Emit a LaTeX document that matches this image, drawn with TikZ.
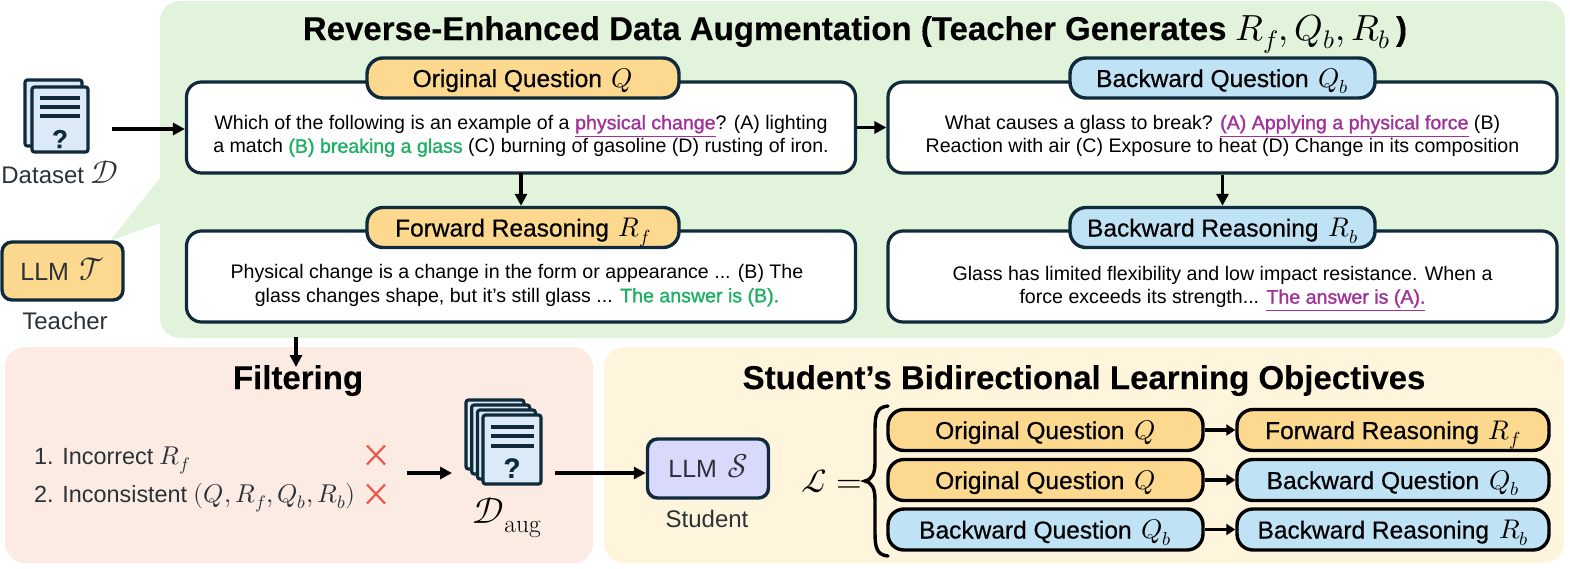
\documentclass[tikz,border=0pt]{standalone}
\usepackage{fontspec}
\usepackage{unicode-math}
\setmainfont{Liberation Sans}
\setmathfont{Latin Modern Math}[Scale=1.1]
\setmathrm{Latin Modern Roman}[Scale=1.1]
\newfontfamily\medfont[FakeBold=0.6]{Liberation Sans}
\newfontfamily\semifont[FakeBold=1.2]{Liberation Sans}
\newfontfamily\heavyfont[FakeBold=0.25]{Liberation Sans Bold}
\usetikzlibrary{arrows.meta,calc}
\definecolor{navy}{HTML}{0F2A3A}
\definecolor{greenbg}{HTML}{E2F3DC}
\definecolor{redbg}{HTML}{FCEBE3}
\definecolor{yelbg}{HTML}{FFF4DC}
\definecolor{pillor}{HTML}{FDD98F}
\definecolor{pillbl}{HTML}{BFE2F5}
\definecolor{llmpur}{HTML}{D9DAFB}
\definecolor{docbl}{HTML}{DCE9F7}
\definecolor{ansgreen}{HTML}{1FAF63}
\definecolor{anspur}{HTML}{A0309A}
\definecolor{crossred}{HTML}{E8594A}
\definecolor{txtgray}{HTML}{2A3238}
\newcommand{\fs}[1]{\fontsize{#1}{#1}\selectfont}
\newcommand{\grn}[1]{\textcolor{ansgreen}{\semifont #1}}
\newcommand{\pur}[1]{\textcolor{anspur}{\semifont\underline{#1}}}
\newcommand{\bigcal}[2]{{\fs{#1}$\mathcal{#2}$}}
\newcommand{\gp}{\hspace{10pt}}
\tikzset{
  x=1pt,y=-1pt,
  panel/.style={inner sep=0,rounded corners=20pt,minimum width=#1},
  bigbox/.style={draw=navy,line width=3.2pt,fill=white,rounded corners=15pt,minimum width=669pt,minimum height=91pt,inner sep=0},
  bodytxt/.style={inner sep=0,align=center,font=\fontsize{19.6}{23.5}\selectfont\color{black}},
  pill/.style={draw=navy,line width=3.4pt,rounded corners=16pt,minimum height=40pt,inner sep=0,text height=20pt,text depth=2pt,font=\fs{24.5}\medfont\color{black}},
  opill/.style={pill,fill=pillor,minimum width=312pt},
  bpill/.style={pill,fill=pillbl,minimum width=305pt},
  spill/.style={pill,draw=black,minimum height=41pt},
  arr/.style={-{Triangle[length=12pt,width=12pt]},line width=3.2pt,black},
  sarr/.style={-{Triangle[length=9pt,width=11pt]},line width=3.2pt,black},
  sheet/.style={draw=navy,line width=3.2pt,fill=docbl,rounded corners=2.5pt},
  sheetline/.style={draw=navy,line width=3.2pt},
  llm/.style={draw=navy,line width=3.4pt,rounded corners=10pt,inner sep=0,text height=20pt,text depth=2pt,font=\fs{25}\color{txtgray}},
  capt/.style={inner sep=0,font=\fs{24}\color{txtgray}},
  ttl/.style={inner sep=0,text height=24pt,text depth=8pt,font=\fs{33}\heavyfont\color{black}},
  listtxt/.style={anchor=west,inner sep=0,text height=16pt,text depth=6pt,font=\fs{23.4}\color{txtgray}},
  cross/.style={draw=crossred,line width=2.2pt},
}
\begin{document}
\begin{tikzpicture}
\useasboundingbox (0,0) rectangle (1570,568);
% panels
\fill[greenbg] (160,178) -- (110,241) -- (160,223) -- cycle;
\node[panel=1405pt,fill=greenbg,minimum height=337pt] (green) at (862.5,169.5) {};
\node[panel=588pt,fill=redbg,minimum height=216pt] (redp) at (299,455) {};
\node[panel=960pt,fill=yelbg,minimum height=216pt] (yelp) at (1084,455) {};
\node[ttl] (title) at (855,32) {Reverse-Enhanced Data Augmentation (Teacher Generates $R_f,Q_b,R_b$\,)};
% upper boxes
\node[bigbox] (q) at (521,127.5) {};
\node[bigbox] (qb) at (1222.5,127.5) {};
\node[bigbox] (rf) at (521,276.5) {};
\node[bigbox] (rb) at (1222.5,276.5) {};
\node[bodytxt] (qt) at (521,136) {Which of the following is an example of a \pur{physical change}? (A) lighting\\a match \grn{(B) breaking a glass} (C) burning of gasoline (D) rusting of iron.};
\node[bodytxt] (qbt) at (1222.5,136) {What causes a glass to break? \pur{(A) Applying a physical force} (B)\\Reaction with air (C) Exposure to heat (D) Change in its composition};
\node[bodytxt] (rft) at (517,285.5) {Physical change is a change in the form or appearance ... (B) The\\glass changes shape, but it's still glass ... \grn{The answer is (B).}};
\node[bodytxt] (rbt) at (1222.5,289) {Glass has limited flexibility and low impact resistance. When a\\force exceeds its strength... \pur{The answer is (A).}};
\node[opill] (qp) at (523,78) {Original Question\gp$Q$};
\node[bpill] (qbp) at (1222.5,78) {Backward Question\gp$Q_b$};
\node[opill] (rfp) at (523,227.5) {Forward Reasoning\gp$R_f$};
\node[bpill] (rbp) at (1222.5,227.5) {Backward Reasoning\gp$R_b$};
% dataset icon
\draw[sheet] (25,80) rectangle (82,146);
\node[sheet,minimum width=56pt,minimum height=65pt,inner sep=0] (doc) at (60,119.5) {};
\foreach \y in {98,107,116} \draw[sheetline] (40,\y) -- (80,\y);
\node[inner sep=0,font=\fs{26}\heavyfont\color{navy}] (docq) at (60,139) {?};
\node[capt] (dset) at (60,172) {Dataset \bigcal{29}{D}};
\node[llm,fill=pillor,minimum width=121pt,minimum height=58pt] (teach) at (62.5,271) {LLM\gp\bigcal{30}{T}};
\node[capt] (teachc) at (65,321) {Teacher};
% upper arrows
\coordinate (a1) at (112,129);
\draw[arr] (a1) -- (a1 -| q.west);
\draw[arr] (q.east) -- (qb.west);
\coordinate (a2) at (521,173);
\draw[arr] (a2) -- (a2 |- rfp.north);
\draw[arr] (qb.south) -- (rbp.north);
\coordinate (a3) at (296,337);
\coordinate (a3e) at (296,367);
\draw[arr] (a3) -- (a3e);
% filtering
\node[ttl] (ftitle) at (298,381) {Filtering};
\node[listtxt] (l1) at (34,459) {1. Incorrect $R_f$};
\node[listtxt] (l2) at (34,497) {2. Inconsistent $(Q,R_f,Q_b,R_b)$};
\coordinate (x1) at (376,455);
\coordinate (x2) at (376,494);
\foreach \c in {x1,x2}{
  \draw[cross] ($(\c)+(-9,-9.5)$) -- ($(\c)+(9,9.5)$);
  \draw[cross] ($(\c)+(-9,9.5)$) -- ($(\c)+(9,-9.5)$);
}
% stack
\foreach \i in {0,1,2}{
  \draw[sheet] ({466+5.7*\i},{400+5*\i}) rectangle ({524+5.7*\i},{469+5*\i});
}
\node[sheet,minimum width=58pt,minimum height=69pt,inner sep=0] (aug) at (512,449.5) {};
\foreach \y in {427,436,446} \draw[sheetline] (491,\y) -- (534,\y);
\node[inner sep=0,font=\fs{28}\heavyfont\color{navy}] (augq) at (512,468) {?};
\node[inner sep=0,font=\fs{33}] (augc) at (507,518) {$\mathcal{D}_{\mathrm{aug}}$};
\coordinate (a4) at (407,473);
\coordinate (a4e) at (452,473);
\draw[arr] (a4) -- (a4e);
\node[llm,fill=llmpur,minimum width=121pt,minimum height=59pt] (stud) at (708,468.5) {LLM\gp\bigcal{30}{S}};
\node[capt] (studc) at (707,519) {Student};
\coordinate (a5) at (555,473);
\draw[arr] (a5) -- (a5 -| stud.west);
% objectives
\node[ttl] (stitle) at (1084,381) {Student’s Bidirectional Learning Objectives};
\node[inner sep=0,font=\fs{30}] (loss) at (832,481) {$\mathcal{L}=$};
\draw[line width=3.4pt,black,line cap=round] (888,406) .. controls (876,407) and (875,416) .. (875,430) -- (875,462) .. controls (875,474) and (872,479) .. (865,481) .. controls (872,483) and (875,488) .. (875,500) -- (875,532) .. controls (875,546) and (876,555) .. (888,556);
\node[spill,fill=pillor,minimum width=315pt] (a) at (1045.5,430) {Original Question\gp$Q$};
\node[spill,fill=pillor,minimum width=315pt] (b) at (1045.5,480) {Original Question\gp$Q$};
\node[spill,fill=pillbl,minimum width=315pt] (c) at (1045.5,529.5) {Backward Question\gp$Q_b$};
\node[spill,fill=pillor,minimum width=312pt] (d) at (1393,430) {Forward Reasoning\gp$R_f$};
\node[spill,fill=pillbl,minimum width=312pt] (e) at (1393,480) {Backward Question\gp$Q_b$};
\node[spill,fill=pillbl,minimum width=312pt] (f) at (1393,529.5) {Backward Reasoning\gp$R_b$};
\draw[sarr] (a) -- (d);
\draw[sarr] (b) -- (e);
\draw[sarr] (c) -- (f);
\end{tikzpicture}
\end{document}
